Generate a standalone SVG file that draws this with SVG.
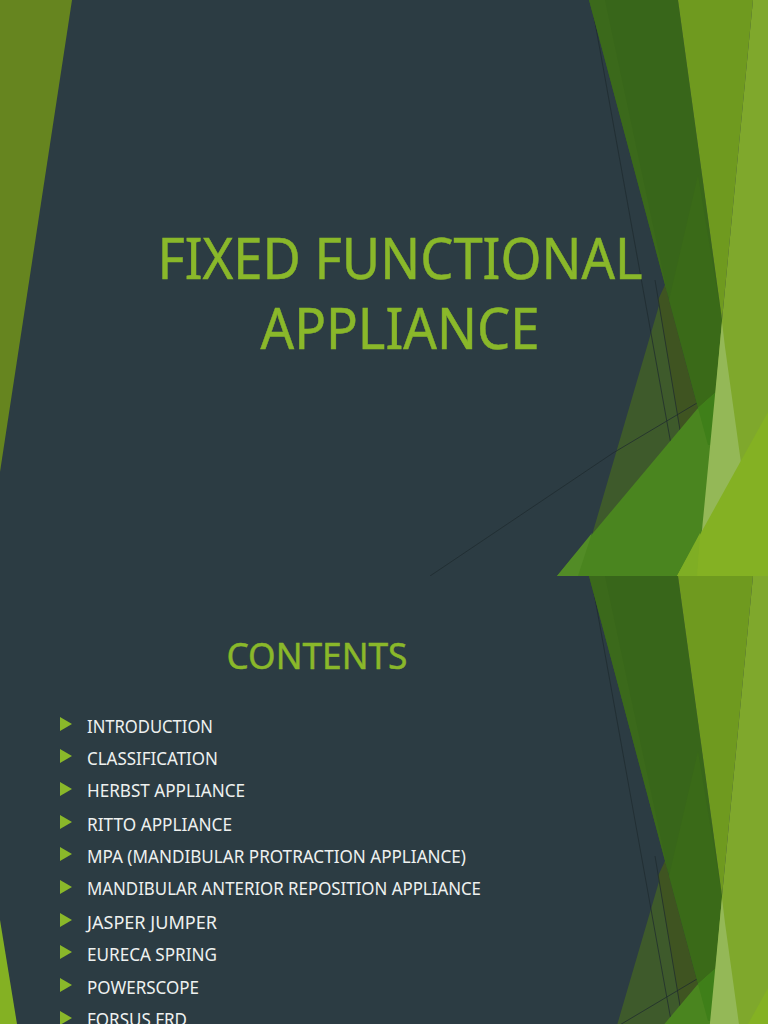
<svg xmlns="http://www.w3.org/2000/svg" xmlns:xlink="http://www.w3.org/1999/xlink" width="768" height="1024" viewBox="0 0 768 1024">
<style>
.t{font-family:"Noto Sans","Liberation Sans",sans-serif;fill:#8ab82a;stroke:#8ab82a;stroke-width:.5}
.b{font-family:"Noto Sans","Liberation Sans",sans-serif;fill:#eef1f0;font-size:18px}
.l{fill:none;stroke:#1f2b2f;stroke-opacity:.75;stroke-width:1}
</style>
<defs>
<clipPath id="c"><rect x="0" y="0" width="768" height="576"/></clipPath>
<polygon id="m" points="0,-7 12,0 0,7" fill="#8ab82a"/>
<g id="art" clip-path="url(#c)">
<polygon points="665,285 592,535 575,576 700,576 700,420" fill="#3e5a2b"/>
<polygon points="665,285 698,408 680,430 658,300" fill="#3f5421"/>
<path class="l" d="M591,0 L672,450"/>
<path class="l" d="M655,280 L680,430"/>
<path class="l" d="M430,576 L613,453 L697,403"/>
<polygon points="589,0 678,0 722,320 719,396 712,445 698,408" fill="#38661a"/>
<polygon points="589,0 605,0 669,300" fill="#3b691b"/>
<polygon points="698,175 722,320 719,396 712,445 698,408 669,300" fill="#3a6a18"/>
<polygon points="678,0 753,0 722,320" fill="#6f9a1f"/>
<polygon points="753,0 768,0 768,576 700,576 722,320" fill="#7fa82c"/>
<polygon points="557,576 698,408 716,392 716,445 702,532 678,576" fill="#4a851f"/>
<polygon points="698,408 716,392 716,445 708,445" fill="#3f7f19"/>
<polygon points="557,576 592,533 578,576" fill="#528c26"/>
<polygon points="722,322 725,347 742,470 700,545 702,530" fill="#94b857"/>
<polygon points="677,576 768,412 768,576" fill="#84b123"/>
<polygon points="677,576 700,533 697,576" fill="#7fae24"/>
</g>
</defs>
<rect id="bg" width="768" height="1024" fill="#2c3c43"/>
<g id="slide1">
<polygon points="0,0 72,0 0,472" fill="#66851f"/>
<use xlink:href="#art" href="#art"/>
<text class="t" x="400" y="279" font-size="56" text-anchor="middle" textLength="485" lengthAdjust="spacingAndGlyphs">FIXED FUNCTIONAL</text>
<text class="t" x="400" y="349" font-size="56" text-anchor="middle" textLength="279" lengthAdjust="spacingAndGlyphs">APPLIANCE</text>
</g>
<g id="slide2">
<polygon points="0,920 17,1024 0,1024" fill="#84b123"/>
<use xlink:href="#art" href="#art" y="576"/>
<text class="t" x="317" y="669" font-size="36" text-anchor="middle" textLength="181" lengthAdjust="spacingAndGlyphs">CONTENTS</text>
<use href="#m" x="60" y="724"/><text class="b" x="87" y="733" textLength="126" lengthAdjust="spacingAndGlyphs">INTRODUCTION</text>
<use href="#m" x="60" y="756"/><text class="b" x="87" y="765" textLength="131" lengthAdjust="spacingAndGlyphs">CLASSIFICATION</text>
<use href="#m" x="60" y="789"/><text class="b" x="87" y="797" textLength="158" lengthAdjust="spacingAndGlyphs">HERBST APPLIANCE</text>
<use href="#m" x="60" y="822"/><text class="b" x="87" y="831" textLength="145" lengthAdjust="spacingAndGlyphs">RITTO APPLIANCE</text>
<use href="#m" x="60" y="854"/><text class="b" x="87" y="863" textLength="379" lengthAdjust="spacingAndGlyphs">MPA (MANDIBULAR PROTRACTION APPLIANCE)</text>
<use href="#m" x="60" y="887"/><text class="b" x="87" y="895" textLength="394" lengthAdjust="spacingAndGlyphs">MANDIBULAR ANTERIOR REPOSITION APPLIANCE</text>
<use href="#m" x="60" y="920"/><text class="b" x="87" y="929" textLength="130" lengthAdjust="spacingAndGlyphs">JASPER JUMPER</text>
<use href="#m" x="60" y="952"/><text class="b" x="87" y="961" textLength="130" lengthAdjust="spacingAndGlyphs">EURECA SPRING</text>
<use href="#m" x="60" y="985"/><text class="b" x="87" y="994" textLength="112" lengthAdjust="spacingAndGlyphs">POWERSCOPE</text>
<use href="#m" x="60" y="1018"/><text class="b" x="87" y="1026" textLength="100" lengthAdjust="spacingAndGlyphs">FORSUS FRD</text>
</g>
</svg>
